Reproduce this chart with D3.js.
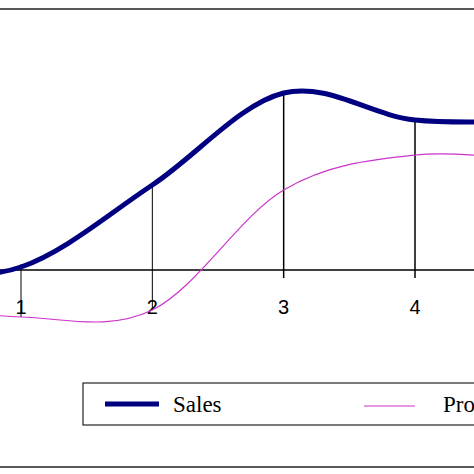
<!DOCTYPE html>
<html>
<head>
<meta charset="utf-8">
<script src="https://cdn.jsdelivr.net/npm/d3@7"></script>
<style>body{margin:0;background:#fff}</style>
</head>
<body>
<svg id="chart"></svg>
<script>
const categories = [0, 1, 2, 3, 4, 5];
const tickLabels = ["1", "2", "3", "4"];
const sales = [-6, 3, 85, 177, 150, 150];
const profit = [-32, -47, -40, 80, 115, 108];

const width = 474, height = 474;
const svg = d3.select('#chart').attr('width', width).attr('height', height);

// outer frame (cropped on the sides)
svg.append('rect')
  .attr('x', -2).attr('y', 9).attr('width', width + 4).attr('height', 458)
  .attr('fill', 'none').attr('stroke', '#222').attr('stroke-width', 1.5);

const x = d3.scaleLinear().domain([1, 4]).range([21, 415]);
const y = d3.scaleLinear().domain([0, 177]).range([270, 93]);

const plot = svg.append('g');

// axis line
plot.append('line')
  .attr('x1', 0).attr('x2', width)
  .attr('y1', y(0)).attr('y2', y(0))
  .attr('stroke', '#000').attr('stroke-width', 1.5);

// drop / high-low lines per category
const idx = [1, 2, 3, 4];
plot.selectAll('.drop')
  .data(idx)
  .join('line')
  .attr('x1', (i) => x(categories[i])).attr('x2', (i) => x(categories[i]))
  .attr('y1', (i) => Math.min(y(sales[i]), y(profit[i]), y(0) - 6))
  .attr('y2', (i) => Math.max(y(sales[i]), y(profit[i]), y(0) + 8))
  .attr('stroke', '#000').attr('stroke-width', (i) => i < 3 ? 1 : 1.5);

// tick labels
plot.selectAll('.tl')
  .data(tickLabels)
  .join('text')
  .attr('x', (d) => x(+d))
  .attr('y', 314)
  .attr('text-anchor', 'middle')
  .attr('font-family', 'Liberation Sans, Arial, sans-serif')
  .attr('font-size', '20px')
  .text((d) => d);

const line = (vals) => d3.line()
  .x((d, i) => x(categories[i]))
  .y((d) => y(d))
  .curve(d3.curveCardinal.tension(0))(vals);

plot.append('path').attr('d', line(profit))
  .attr('fill', 'none').attr('stroke', '#cc33cc').attr('stroke-width', 1.2);
plot.append('path').attr('d', line(sales))
  .attr('fill', 'none').attr('stroke', '#000080').attr('stroke-width', 5);

// legend
const lg = svg.append('g');
lg.append('rect')
  .attr('x', 83).attr('y', 383).attr('width', 400).attr('height', 42)
  .attr('fill', '#fff').attr('stroke', '#222').attr('stroke-width', 1.2);
lg.append('line').attr('x1', 105).attr('x2', 159).attr('y1', 404).attr('y2', 404)
  .attr('stroke', '#000080').attr('stroke-width', 5);
lg.append('line').attr('x1', 364).attr('x2', 415).attr('y1', 406).attr('y2', 406)
  .attr('stroke', '#cc33cc').attr('stroke-width', 1.2);
lg.selectAll('.lt')
  .data([{ t: 'Sales', x: 173 }, { t: 'Profit', x: 443 }])
  .join('text')
  .attr('x', (d) => d.x).attr('y', 412)
  .attr('font-family', 'Liberation Serif, Times New Roman, serif')
  .attr('font-size', '23px')
  .text((d) => d.t);
</script>
</body>
</html>
